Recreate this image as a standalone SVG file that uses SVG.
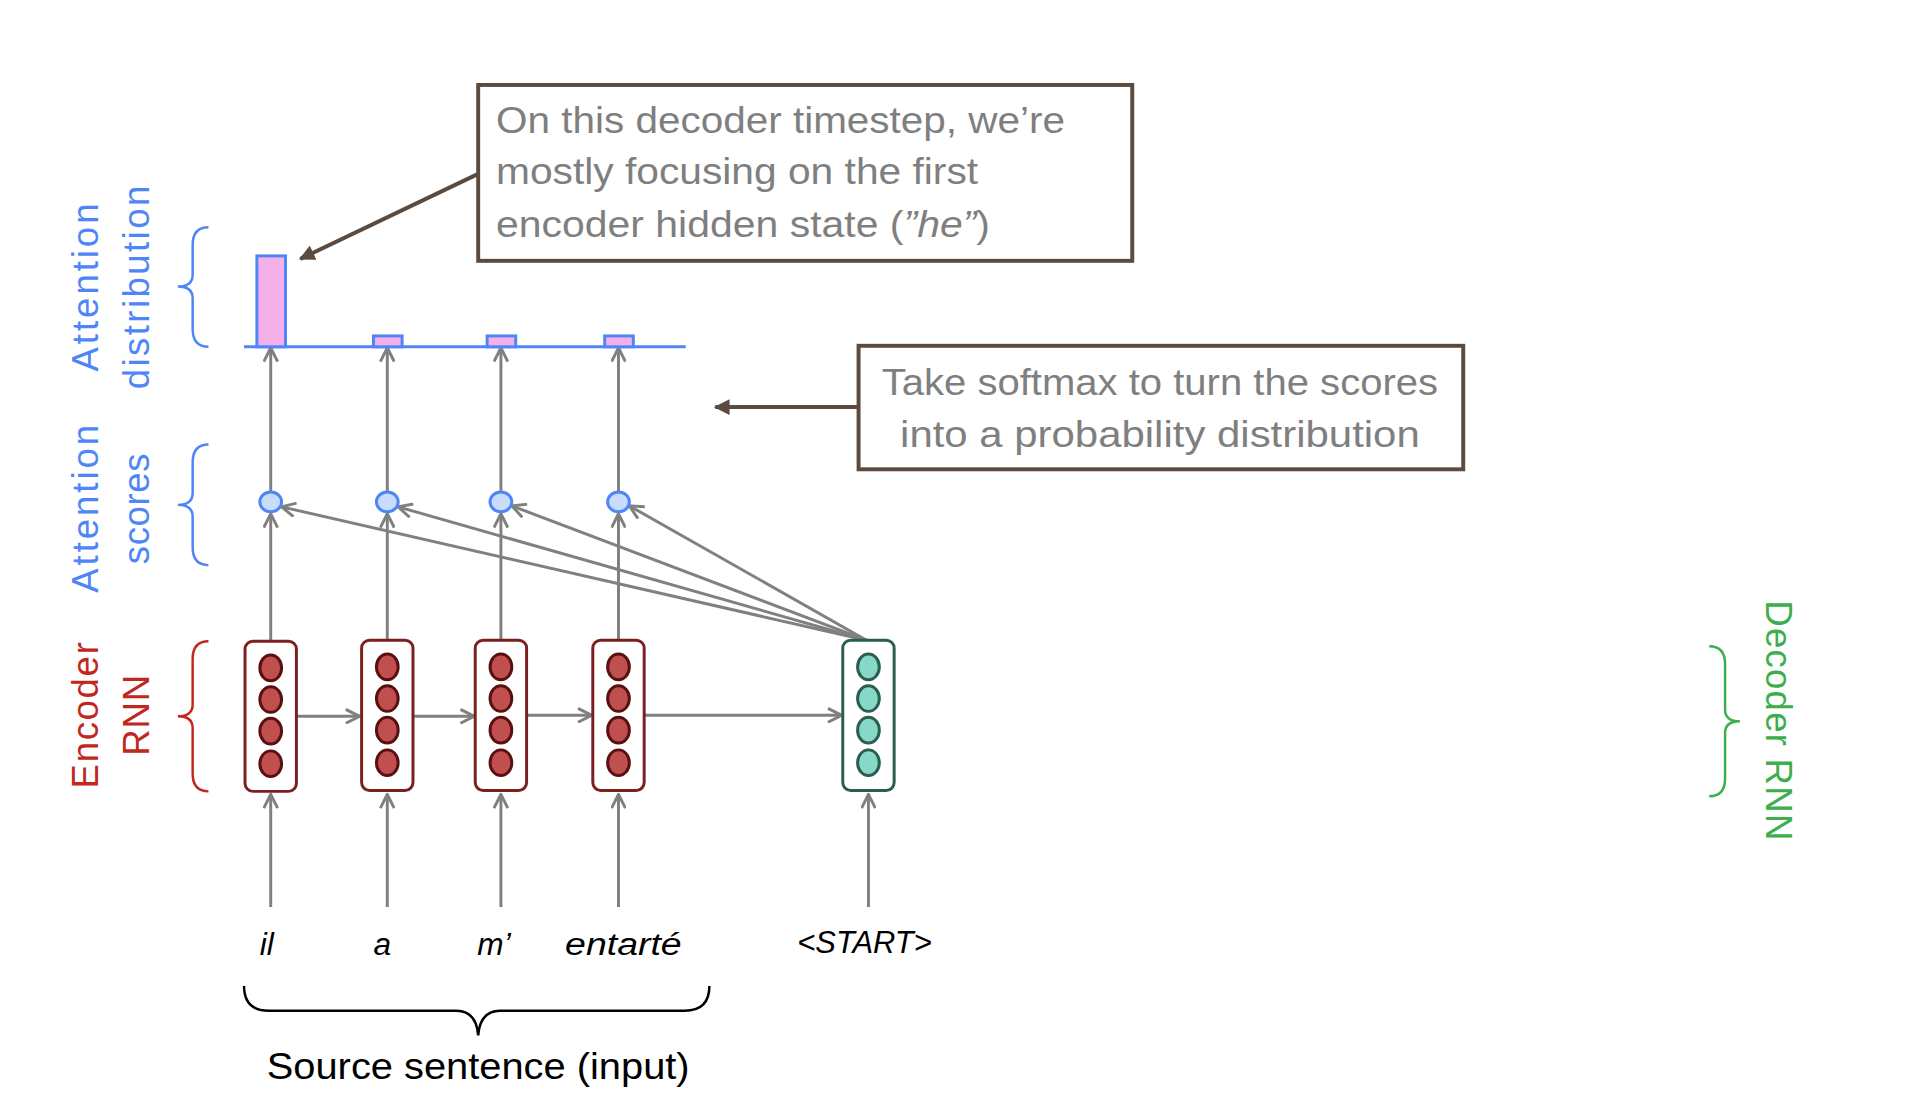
<svg xmlns="http://www.w3.org/2000/svg" width="1922" height="1110" viewBox="0 0 1922 1110">
<defs>
<marker id="ah" viewBox="0 0 16 16" refX="15" refY="8" markerWidth="16" markerHeight="16" markerUnits="userSpaceOnUse" orient="auto"><path d="M1,1 L15,8 L1,15" fill="none" stroke="#808080" stroke-width="3"/></marker>
<marker id="bh" viewBox="0 0 10 10" refX="9" refY="5" markerWidth="4" markerHeight="4" orient="auto"><path d="M0,0 L10,5 L0,10 z" fill="#5b4b3f"/></marker>
</defs>
<style>
.g{stroke:#808080;stroke-width:3;fill:none;marker-end:url(#ah)}
.eb{fill:#fff;stroke:#7b1f1f;stroke-width:3}
.ed{fill:#c0504d;stroke:#5a1010;stroke-width:3}
.db{fill:#fff;stroke:#2a5e4e;stroke-width:3}
.dd{fill:#88d8c8;stroke:#2a5e4e;stroke-width:3}
.sc{fill:#c9dcfb;stroke:#4f86f7;stroke-width:3}
.bar{fill:#f4b0e8;stroke:#4f86f7;stroke-width:3}
.w{font-family:"Liberation Sans",Arial,sans-serif;font-style:italic;font-size:32px;fill:#000}
.bx{fill:#fff;stroke:#5b4b3f;stroke-width:4}
.bt{font-family:"Liberation Sans",Arial,sans-serif;font-size:37px;fill:#7f7f7f}
.lb{font-family:"Liberation Sans",Arial,sans-serif;font-size:37px;text-anchor:middle}
.br{fill:none;stroke-width:2.5}
</style>
<g transform="scale(0.988)">
<g id="connectors">
<line class="g" x1="274" y1="918" x2="274" y2="804"/>
<line class="g" x1="392" y1="918" x2="392" y2="804"/>
<line class="g" x1="507" y1="918" x2="507" y2="804"/>
<line class="g" x1="626" y1="918" x2="626" y2="804"/>
<line class="g" x1="879" y1="918" x2="879" y2="804"/>
<line class="g" x1="300" y1="725" x2="364" y2="725"/>
<line class="g" x1="418" y1="725" x2="480" y2="725"/>
<line class="g" x1="533" y1="724" x2="599" y2="724"/>
<line class="g" x1="652" y1="724" x2="852" y2="724"/>
<line class="g" x1="274" y1="648" x2="274" y2="520"/>
<line class="g" x1="392" y1="648" x2="392" y2="520"/>
<line class="g" x1="507" y1="648" x2="507" y2="520"/>
<line class="g" x1="626" y1="648" x2="626" y2="520"/>
<line class="g" x1="274" y1="498" x2="274" y2="352"/>
<line class="g" x1="392" y1="498" x2="392" y2="352"/>
<line class="g" x1="507" y1="498" x2="507" y2="352"/>
<line class="g" x1="626" y1="498" x2="626" y2="352"/>
<line class="g" x1="877" y1="648" x2="285" y2="513"/>
<line class="g" x1="877" y1="648" x2="403" y2="513"/>
<line class="g" x1="877" y1="648" x2="518" y2="512"/>
<line class="g" x1="877" y1="648" x2="637" y2="512"/>
<line x1="484" y1="176" x2="304" y2="262" stroke="#5b4b3f" stroke-width="4" marker-end="url(#bh)"/>
<line x1="869" y1="412" x2="724" y2="412" stroke="#5b4b3f" stroke-width="4" marker-end="url(#bh)"/>
</g>
<g id="attention-dist">
<line x1="247" y1="351" x2="694" y2="351" stroke="#4f86f7" stroke-width="3"/>
<rect class="bar" x="260" y="259" width="29" height="92"/>
<rect class="bar" x="378" y="340" width="29" height="11"/>
<rect class="bar" x="493" y="340" width="29" height="11"/>
<rect class="bar" x="612" y="340" width="29" height="11"/>
</g>
<g id="scores">
<ellipse class="sc" cx="274" cy="508" rx="11" ry="10"/>
<ellipse class="sc" cx="392" cy="508" rx="11" ry="10"/>
<ellipse class="sc" cx="507" cy="508" rx="11" ry="10"/>
<ellipse class="sc" cx="626" cy="508" rx="11" ry="10"/>
</g>
<g id="enc1"><rect class="eb" x="248" y="649" width="52" height="152" rx="8"/><ellipse class="ed" cx="274" cy="676" rx="11" ry="13"/><ellipse class="ed" cx="274" cy="708" rx="11" ry="13"/><ellipse class="ed" cx="274" cy="740" rx="11" ry="13"/><ellipse class="ed" cx="274" cy="773" rx="11" ry="13"/></g>
<g id="enc2"><rect class="eb" x="366" y="648" width="52" height="152" rx="8"/><ellipse class="ed" cx="392" cy="675" rx="11" ry="13"/><ellipse class="ed" cx="392" cy="707" rx="11" ry="13"/><ellipse class="ed" cx="392" cy="739" rx="11" ry="13"/><ellipse class="ed" cx="392" cy="772" rx="11" ry="13"/></g>
<g id="enc3"><rect class="eb" x="481" y="648" width="52" height="152" rx="8"/><ellipse class="ed" cx="507" cy="675" rx="11" ry="13"/><ellipse class="ed" cx="507" cy="707" rx="11" ry="13"/><ellipse class="ed" cx="507" cy="739" rx="11" ry="13"/><ellipse class="ed" cx="507" cy="772" rx="11" ry="13"/></g>
<g id="enc4"><rect class="eb" x="600" y="648" width="52" height="152" rx="8"/><ellipse class="ed" cx="626" cy="675" rx="11" ry="13"/><ellipse class="ed" cx="626" cy="707" rx="11" ry="13"/><ellipse class="ed" cx="626" cy="739" rx="11" ry="13"/><ellipse class="ed" cx="626" cy="772" rx="11" ry="13"/></g>
<g id="dec1"><rect class="db" x="853" y="648" width="52" height="152" rx="8"/><ellipse class="dd" cx="879" cy="675" rx="11" ry="13"/><ellipse class="dd" cx="879" cy="707" rx="11" ry="13"/><ellipse class="dd" cx="879" cy="739" rx="11" ry="13"/><ellipse class="dd" cx="879" cy="772" rx="11" ry="13"/></g>
<g id="words">
<text class="w" x="270" y="967" text-anchor="middle">il</text>
<text class="w" x="387" y="967" text-anchor="middle">a</text>
<text class="w" x="500" y="967" text-anchor="middle">m’</text>
<text class="w" x="631" y="967" text-anchor="middle" textLength="118" lengthAdjust="spacingAndGlyphs">entarté</text>
<text class="w" x="875" y="965" text-anchor="middle" textLength="136" lengthAdjust="spacingAndGlyphs">&lt;START&gt;</text>
</g>
<g id="source">
<path class="br" stroke="#000" d="M247,998 Q247,1023 272,1023 L462,1023 Q482,1023 484,1048 Q486,1023 506,1023 L693,1023 Q718,1023 718,998"/>
<text x="484" y="1092" font-family="Liberation Sans, Arial, sans-serif" font-size="38" text-anchor="middle" textLength="428" lengthAdjust="spacingAndGlyphs">Source sentence (input)</text>
</g>
<g id="callout1">
<rect class="bx" x="484" y="86" width="662" height="178"/>
<text class="bt" x="502" y="135" textLength="576" lengthAdjust="spacingAndGlyphs">On this decoder timestep, we’re</text>
<text class="bt" x="502" y="186" textLength="488" lengthAdjust="spacingAndGlyphs">mostly focusing on the first</text>
<text class="bt" x="502" y="240" textLength="500" lengthAdjust="spacingAndGlyphs">encoder hidden state (<tspan font-style="italic">”he”</tspan>)</text>
</g>
<g id="callout2">
<rect class="bx" x="869" y="350" width="612" height="125"/>
<text class="bt" x="1174" y="400" text-anchor="middle" textLength="563" lengthAdjust="spacingAndGlyphs">Take softmax to turn the scores</text>
<text class="bt" x="1174" y="452" text-anchor="middle" textLength="526" lengthAdjust="spacingAndGlyphs">into a probability distribution</text>
</g>
<g id="labels">
<g fill="#4f86f7">
<text class="lb" transform="translate(99,291) rotate(-90)" textLength="170">Attention</text>
<text class="lb" transform="translate(151,291) rotate(-90)" textLength="206">distribution</text>
<text class="lb" transform="translate(99,515) rotate(-90)" textLength="170">Attention</text>
<text class="lb" transform="translate(151,515) rotate(-90)" textLength="112">scores</text>
</g>
<g fill="#c0281e">
<text class="lb" transform="translate(99,724) rotate(-90)" textLength="148">Encoder</text>
<text class="lb" transform="translate(151,724) rotate(-90)" textLength="82">RNN</text>
</g>
<text class="lb" fill="#3cae4c" transform="translate(1787,729) rotate(90)" textLength="243">Decoder RNN</text>
<path class="br" stroke="#4f86f7" d="M211,230 Q195,230 195,248 L195,278 Q195,290 180,290 Q195,290 195,302 L195,333 Q195,351 211,351"/>
<path class="br" stroke="#4f86f7" d="M211,450 Q195,450 195,468 L195,499 Q195,511 180,511 Q195,511 195,523 L195,554 Q195,572 211,572"/>
<path class="br" stroke="#c0281e" d="M211,649 Q195,649 195,667 L195,713 Q195,725 180,725 Q195,725 195,737 L195,783 Q195,801 211,801"/>
<path class="br" stroke="#3cae4c" d="M1730,654 Q1746,654 1746,672 L1746,718 Q1746,730 1761,730 Q1746,730 1746,742 L1746,788 Q1746,806 1730,806"/>
</g>
</g>
</svg>
